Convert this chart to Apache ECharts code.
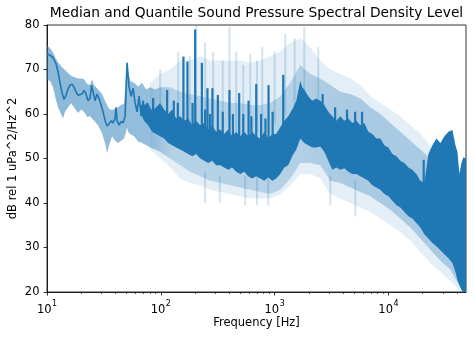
<!DOCTYPE html>
<html><head><meta charset="utf-8">
<script src="https://cdn.jsdelivr.net/npm/echarts@6/dist/echarts.min.js"></script>
<style>html,body{margin:0;padding:0;background:#fff}#c{width:474px;height:339px}</style>
</head><body><div id="c"></div>
<script>
// ---- median line (low frequencies) ----
const medFreq = [10, 10.63, 11.29, 12.0, 12.5, 13.01, 13.55, 14.11, 14.69, 15.3, 15.93, 16.59, 17.28, 17.99, 18.74, 19.51, 20.32, 21.16, 22.03, 22.94, 23.89, 24.63, 25.38, 26.43, 27.53, 28.66, 29.85, 31.08, 32.37, 33.7, 35.1, 36.55, 38.06, 39.63, 40.44, 41.27, 42.98, 44.75, 46.6, 48.53, 50.53, 52.62, 54.8, 57.06, 59.42, 61.88, 64.43, 67.1, 69.87, 72.76, 75.76, 78.9, 82.16, 85.55, 89.09, 92.77, 96.61];
const medVal = [73.5, 73.2, 72.7, 71.3, 69.5, 67, 64.8, 63.3, 64.2, 65.6, 66.5, 66.7, 66, 65, 64.2, 63.8, 64.5, 65.3, 64.5, 63, 63.5, 66.5, 65, 63, 64.5, 63.5, 62, 60.5, 58.5, 57.3, 57.8, 58.5, 58, 59, 61.5, 58.5, 57.5, 58.3, 58, 59.5, 71.5, 66, 64, 65.8, 62.5, 60.5, 64, 59.5, 63, 58.5, 62.5, 58.5, 61, 57.5, 61, 57, 60];

// ---- quantile band ----
const bandFreq = [10, 10.63, 11.29, 11.76, 12.5, 13.28, 13.83, 14.4, 15.3, 16.26, 17.28, 18.74, 19.91, 21.16, 22.48, 23.89, 24.88, 25.91, 28.09, 30.46, 32.37, 33.7, 35.1, 37.3, 39.63, 42.11, 44.75, 47.55, 49.52, 50.53, 51.56, 53.7, 58.23, 63.15, 68.48, 74.27, 80.54, 89.09, 98.6, 120.8, 147.8, 181, 221.6, 271.4, 332.3, 406.9, 498.2, 610.1, 747.1, 914.8, 1120, 1372, 1680, 2056, 2518, 3083, 3776, 4623, 5661, 6931, 8487, 10392, 12725, 15580, 19077, 23360, 28601, 35020, 42888, 48000];
const bandLo = [67.6, 67.5, 66, 64, 61.5, 60, 59, 60.5, 61.5, 62.4, 61.5, 60.2, 61, 60.5, 59.4, 59.5, 59, 58.5, 57.5, 55.7, 53.5, 51.2, 53, 55, 54, 53.5, 54, 54.5, 56, 57, 56, 55.5, 55, 53.8, 53.5, 53, 52.5, 52, 51.5, 50, 48.5, 47, 46, 45, 44.5, 44, 43.5, 43, 42.5, 42, 43, 45.5, 49, 49, 48.5, 45, 44.5, 43.5, 42.5, 41.5, 40, 38.5, 36.5, 34.5, 32, 29.5, 27, 25, 21, 20];
const bandHi = [75.5, 74.8, 73.8, 72.8, 71.6, 70.8, 70.3, 69.9, 69.2, 68.6, 68.3, 68, 68, 67.8, 66.8, 66.5, 67.8, 66.5, 65.5, 64.5, 63, 62, 61.2, 60.9, 61.2, 61.5, 62, 62.3, 69, 72, 69.5, 67.5, 67, 66.2, 67, 65.5, 66, 65.5, 66, 66, 65, 64.5, 64, 63.5, 63, 62.5, 62.5, 62, 62, 62.5, 64, 67, 71, 69, 68, 66.5, 65, 64.5, 63.5, 61.5, 60, 58, 56, 54, 52, 50, 48, 46, 45, 45];

// ---- outer faint quantile fuzz ----
const fuzzFreq = [80.54, 98.6, 120.8, 147.8, 181, 221.6, 271.4, 332.3, 406.9, 498.2, 610.1, 747.1, 914.8, 1120, 1372, 1680, 2056, 2518, 3083, 3776, 4623, 5661, 6931, 8487, 10392, 12725, 15580, 19077, 23360, 28601, 35020, 42888, 48000];
const fuzzLo = [52, 50, 48, 45.5, 44.5, 44, 43, 42.5, 42, 41.5, 41, 41, 41, 42, 44, 46.5, 46.5, 45.5, 42, 41, 40, 39, 38, 36.5, 35, 33.5, 31.5, 29, 26.5, 24.5, 22.5, 20, 20];
const fuzzHi = [67, 69, 70, 72, 72, 73, 72, 72, 72, 72, 71.5, 72, 73, 74, 76, 77, 75, 72, 70, 69, 68, 66.5, 64, 62.5, 61, 59.5, 57.5, 55.5, 53, 51, 49, 47, 46];

// ---- dense median envelope (dark) ----
const darkFreq = [65.76, 71.3, 77.3, 83.8, 90.9, 98.6, 106.9, 115.9, 125.7, 136.3, 147.8, 160.3, 173.8, 188.5, 204.4, 221.6, 240.3, 260.6, 282.6, 306.4, 332.3, 360.3, 390.7, 423.7, 459.5, 498.2, 540.3, 585.9, 635.3, 688.9, 747.1, 810.1, 878.5, 952.6, 1033, 1120, 1215, 1317, 1428, 1549, 1680, 1749, 1821, 1975, 2141, 2322, 2518, 2731, 2961, 3211, 3482, 3776, 4094, 4440, 4814, 5221, 5661, 6138, 6656, 7218, 7827, 8487, 9203, 9980, 10822, 11735, 12725, 13799, 14962, 16224, 17593, 19077, 20686, 22431, 24324, 26376, 28601, 31012, 33627, 36475, 38760, 40360, 42030, 43770, 45570, 48000];
const darkLo = [60.5, 58.5, 57.5, 56, 55.5, 55, 54.5, 53.5, 53, 52.5, 52, 51.5, 51, 50.5, 51, 50, 49.5, 49, 49.5, 48.5, 48.5, 48, 47.5, 48, 47, 46.5, 47, 46, 45.5, 46, 45.5, 45, 45.8, 45, 45.5, 46.5, 48, 48.5, 50.5, 52, 54.5, 54, 53.5, 53, 52.5, 52.5, 52.7, 51.5, 49.5, 47.5, 48, 47.5, 47.8, 47, 46.5, 46.5, 46, 45.5, 45, 44, 43.5, 43, 42, 41.5, 40.5, 39.5, 39, 38, 37, 36.5, 35.5, 34.5, 33, 32, 31, 30.3, 29.4, 28.5, 27.6, 26.5, 24.5, 22.7, 21.5, 20.5, 20, 20];
const darkHi = [62, 62, 62.5, 60.5, 61.5, 62.5, 61, 60, 61, 59, 59.5, 58.5, 59, 57.5, 58.5, 57.5, 58, 56.5, 57.5, 56, 56.5, 55.5, 56.5, 55, 56, 55, 56, 55, 56, 55, 54.5, 56, 54.5, 55.5, 55.5, 57, 58.5, 59.5, 61, 63, 67.5, 66, 65.5, 64, 63, 63.5, 63, 62, 60.5, 59.5, 58.5, 59.5, 58.5, 59, 58, 58.5, 57.5, 58, 56, 55.5, 54.5, 54.5, 53, 52.5, 51, 50.5, 49.5, 49, 48, 47.5, 46.5, 45, 44.5, 51, 53, 54.5, 53.5, 55, 56, 56.4, 53, 51.5, 46.5, 49, 50.3, 50];

// ---- tonal peaks of the median ----
const spikeFreq = [85.6, 113.6, 130, 141, 158, 171.4, 190, 200.3, 229.4, 245, 257, 270, 284, 317, 350, 401, 430, 488, 530, 590, 625, 689, 760, 830, 884, 960, 1190, 2640, 3400, 4325, 5100, 5860, 20400];
const spikeBase = [58, 58, 58, 57, 56, 56, 55, 55, 55, 54, 54, 54, 54, 54, 53, 53, 53, 53, 52, 53, 52, 53, 52, 52, 52, 52, 55, 58, 56, 56, 55, 55, 42];
const spikeTop = [63.6, 65.4, 63, 62.5, 72.9, 71.8, 62.5, 79, 71.5, 61, 65.8, 60, 65.8, 64.3, 60.5, 65.4, 60, 64.7, 60, 63, 59.5, 66.7, 60, 59, 66.5, 60.5, 68.8, 64.5, 61.5, 61, 60.5, 60.5, 49.7];

// ---- faint quantile streaks ----
const streakFreq = [98.6, 142, 180, 204.4, 245, 288.4, 350, 401, 459.5, 530, 610, 700, 778, 1000, 1240, 1500, 1821, 2418, 245, 330, 551, 700, 878, 3083, 5116];
const streakBase = [62, 58, 58, 58, 58, 57, 57, 57, 56, 56, 56, 56, 56, 58, 60, 62, 64, 62, 40, 40, 39.5, 39.5, 39.5, 39.5, 37];
const streakTop = [70, 74, 73, 80, 76, 74, 72, 79.6, 74, 71, 73.5, 72, 75, 74, 78, 77, 79.5, 75, 47, 46, 46, 46, 46, 46, 45];

// ---- axes ----
const xMajor = [10, 100, 1000, 10000];
const xMinor = [20, 30, 40, 50, 60, 70, 80, 90, 200, 300, 400, 500, 600, 700, 800, 900, 2000, 3000, 4000, 5000, 6000, 7000, 8000, 9000, 20000, 30000, 40000];
const yTicks = [20, 30, 40, 50, 60, 70, 80];

const C = '#1f77b4';
const FONT = 'DejaVu Sans';
const chart = echarts.init(document.getElementById('c'), null, {renderer: 'canvas'});

function polyBand(freqs, lo, hi, fill, z) {
  return {
    type: 'custom', z: z, silent: true, clip: true,
    data: freqs.map((f, i) => [f, lo[i], hi[i]]),
    encode: {x: 0, y: [1, 2]},
    renderItem: function (params, api) {
      if (params.dataIndex !== 0) return null;
      const pts = [];
      for (let i = 0; i < freqs.length; i++) pts.push(api.coord([freqs[i], hi[i]]));
      for (let i = freqs.length - 1; i >= 0; i--) pts.push(api.coord([freqs[i], lo[i]]));
      return {type: 'polygon', shape: {points: pts}, style: {fill: fill}};
    }
  };
}
function bars(freqs, base, top, fill, w, z) {
  return {
    type: 'custom', z: z, silent: true, clip: true,
    data: freqs.map((f, i) => [f, base[i], top[i]]),
    encode: {x: 0, y: [1, 2]},
    renderItem: function (params, api) {
      const t = api.coord([api.value(0), api.value(2)]);
      const b = api.coord([api.value(0), api.value(1)]);
      return {type: 'rect', shape: {x: t[0] - w / 2, y: t[1], width: w, height: b[1] - t[1]}, style: {fill: fill}};
    }
  };
}

const option = {
  animation: false,
  backgroundColor: '#fff',
  textStyle: {fontFamily: FONT},
  grid: {left: 47, right: 8, top: 25, bottom: 47, show: true, borderColor: '#000', borderWidth: 0.8, backgroundColor: 'transparent', outerBoundsMode: 'none'},
  graphic: [{
    type: 'text', x: 256.5, y: 13.5,
    style: {text: 'Median and Quantile Sound Pressure Spectral Density Level', font: '13.8px "DejaVu Sans"', fill: '#000', textAlign: 'center', textVerticalAlign: 'middle'}
  }],
  xAxis: [{
    type: 'log', logBase: 10, min: 10, max: 48000, position: 'bottom',
    axisLine: {show: true, lineStyle: {color: '#000', width: 0.8}},
    axisTick: {show: true, length: 3.5, lineStyle: {color: '#000', width: 0.8}, customValues: xMajor},
    axisLabel: {
      customValues: xMajor, color: '#000', margin: 8, fontFamily: FONT,
      formatter: function (v) { return '{b|10}{s|' + Math.round(Math.log10(v)) + '}'; },
      rich: {b: {fontSize: 11.5, fontFamily: FONT, color: '#000', lineHeight: 16, verticalAlign: 'bottom'},
             s: {fontSize: 8, fontFamily: FONT, color: '#000', lineHeight: 10, verticalAlign: 'top', padding: [0, 0, 0, 0.5]}}
    },
    splitLine: {show: false},
    name: 'Frequency [Hz]', nameLocation: 'middle', nameGap: 25, nameMoveOverlap: false,
    nameTextStyle: {color: '#000', fontSize: 11.5, fontFamily: FONT}
  }, {
    type: 'log', logBase: 10, min: 10, max: 48000, position: 'bottom',
    axisLine: {show: false},
    axisTick: {show: true, length: 2, lineStyle: {color: '#000', width: 0.6}, customValues: xMinor},
    axisLabel: {show: false},
    splitLine: {show: false}
  }],
  yAxis: {
    type: 'value', min: 20, max: 80, interval: 10,
    axisLine: {show: true, lineStyle: {color: '#000', width: 0.8}},
    axisTick: {show: true, length: 3.5, lineStyle: {color: '#000', width: 0.8}, customValues: yTicks},
    axisLabel: {color: '#000', fontSize: 11.5, fontFamily: FONT, margin: 7.5, customValues: yTicks},
    splitLine: {show: false},
    name: 'dB rel 1 uPa^2/Hz^2', nameLocation: 'middle', nameGap: 28, nameMoveOverlap: false,
    nameTextStyle: {color: '#000', fontSize: 11.5, fontFamily: FONT}
  },
  series: [
    polyBand(fuzzFreq, fuzzLo, fuzzHi, 'rgba(31,119,180,0.12)', 1),
    polyBand(bandFreq, bandLo, bandHi, {
      type: 'linear', x: 0, y: 0, x2: 1, y2: 0,
      colorStops: [{offset: 0, color: 'rgba(31,119,180,0.52)'}, {offset: 0.24, color: 'rgba(31,119,180,0.48)'},
                   {offset: 0.3, color: 'rgba(31,119,180,0.24)'}, {offset: 0.55, color: 'rgba(31,119,180,0.24)'},
                   {offset: 0.72, color: 'rgba(31,119,180,0.3)'}, {offset: 1, color: 'rgba(31,119,180,0.3)'}]
    }, 2),
    bars(streakFreq, streakBase, streakTop, 'rgba(31,119,180,0.2)', 2, 3),
    polyBand(darkFreq, darkLo, darkHi, C, 4),
    bars(spikeFreq, spikeBase, spikeTop, C, 2.2, 5),
    {
      type: 'line', z: 6, silent: true, symbol: 'none', showSymbol: false,
      data: medFreq.map((f, i) => [f, medVal[i]]),
      lineStyle: {color: C, width: 1.6}
    }
  ]
};
chart.setOption(option);
</script>
</body></html>
